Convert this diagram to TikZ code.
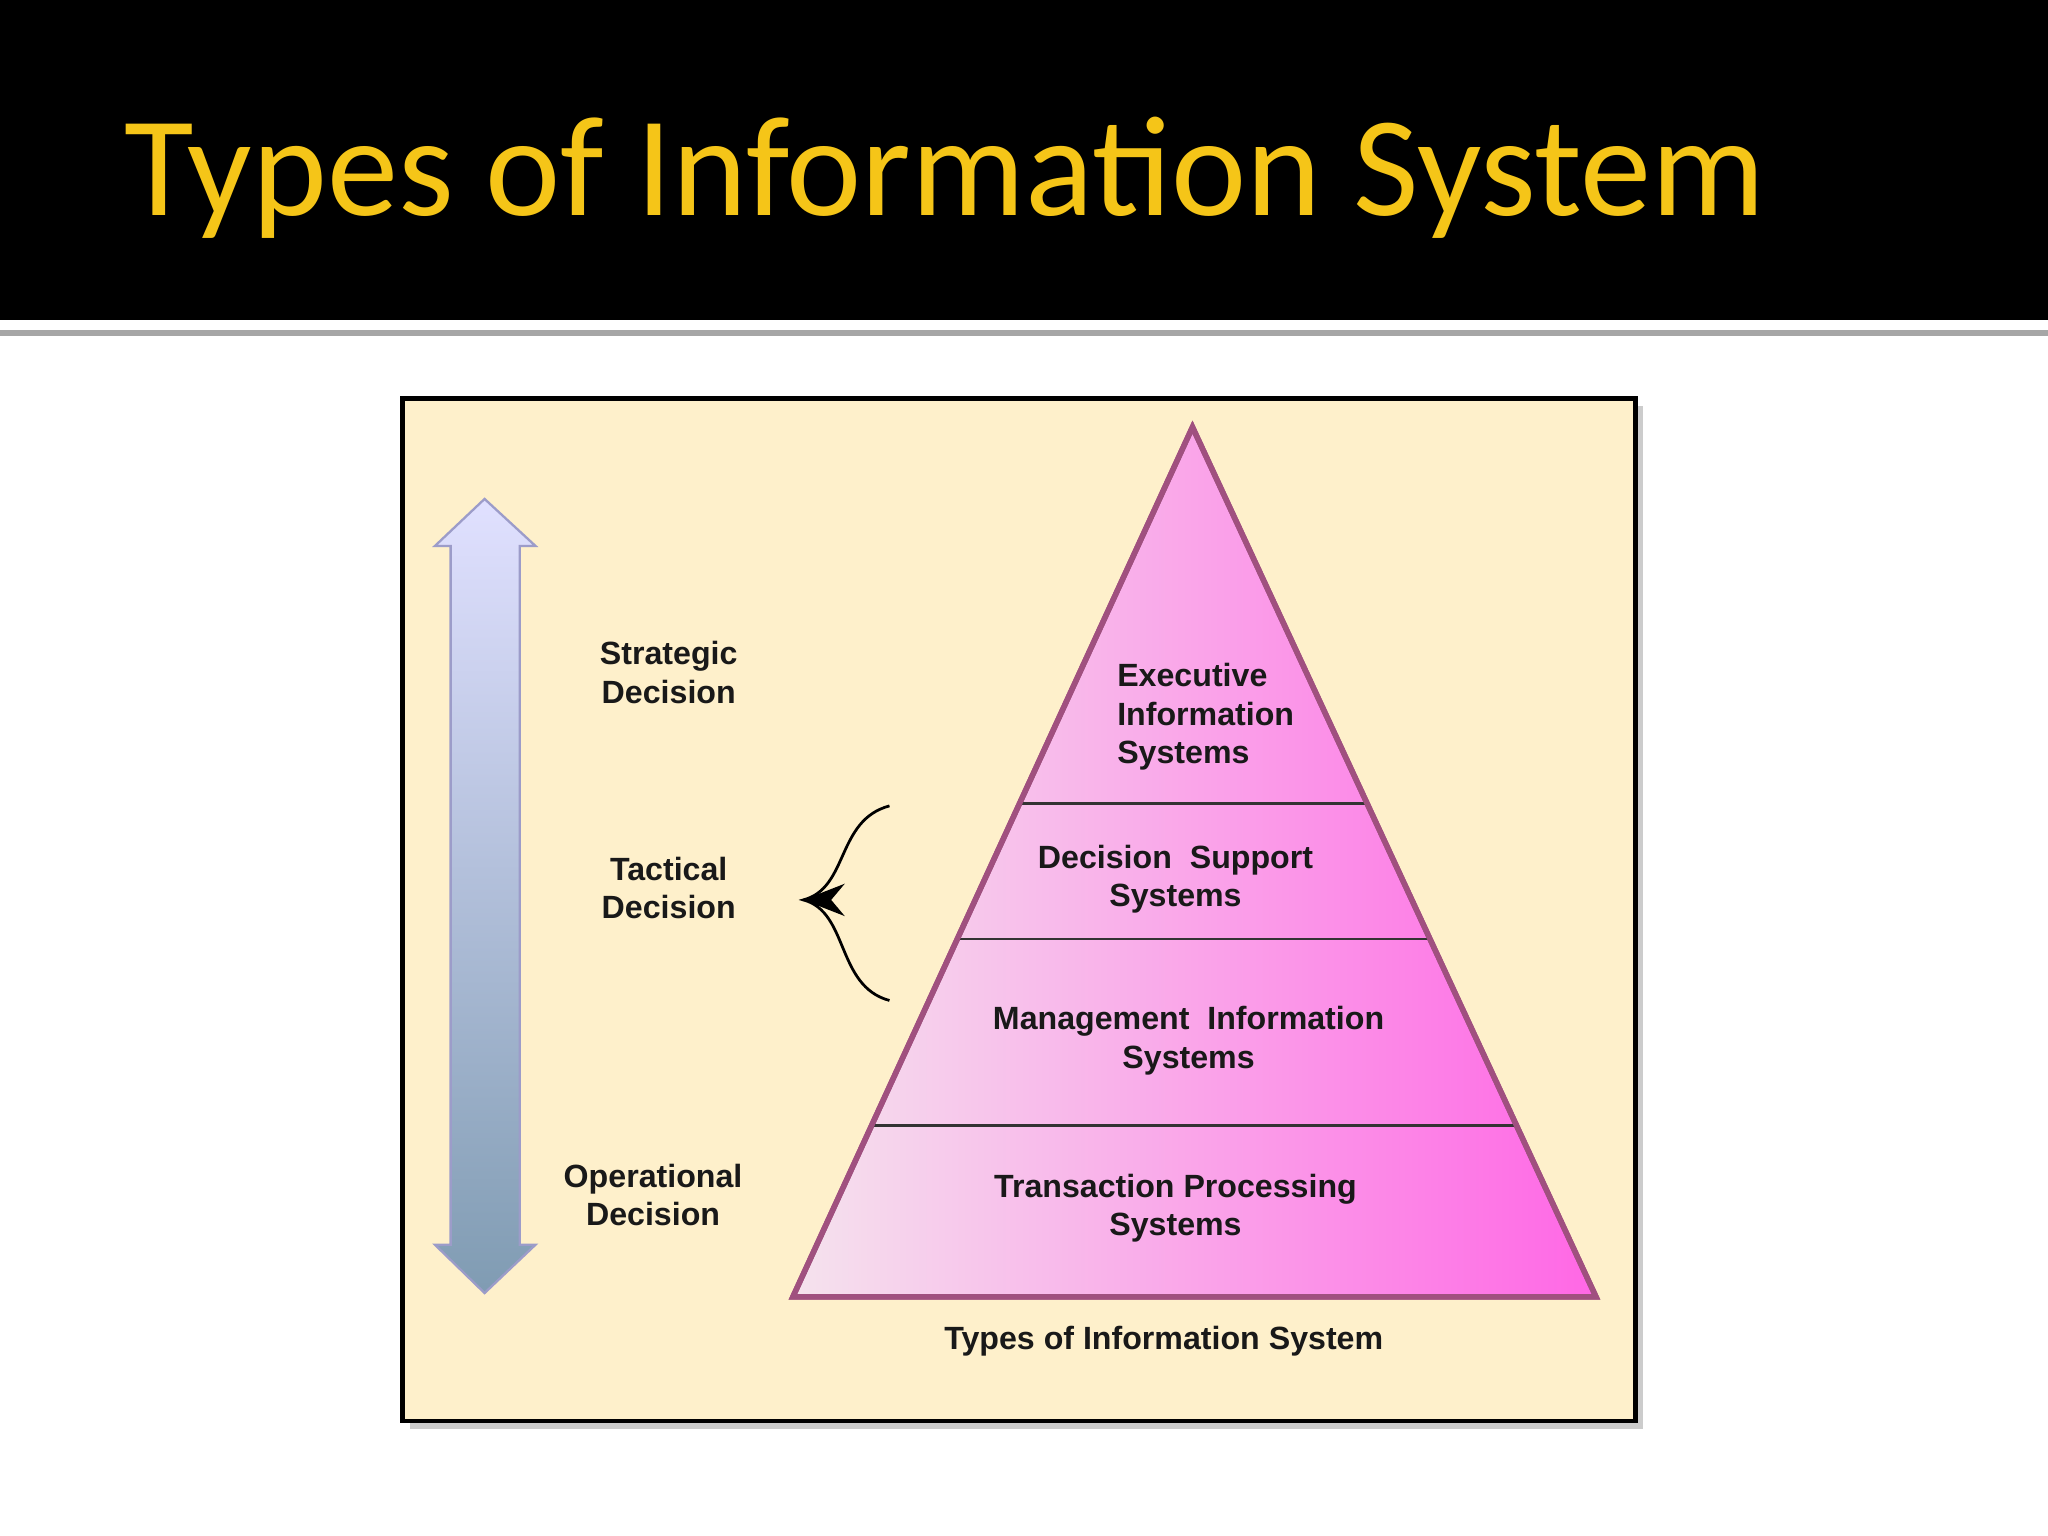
\documentclass[tikz,border=0pt]{standalone}
\usepackage{fontspec}
\setmainfont{Liberation Sans}
\newfontfamily\titlefont{Carlito}
\usetikzlibrary{calc,arrows.meta}
\definecolor{cream}{HTML}{FEF0CB}
\definecolor{gold}{HTML}{F5C518}
\definecolor{tribord}{HTML}{A0507F}
\tikzset{lbl/.style={font=\bfseries\fontsize{7pt}{8.4pt}\selectfont, align=center, text=black!90},
 lvl/.style={draw=black!80, line width=0.6pt}}
\begin{document}
\begin{tikzpicture}[x=0.01cm,y=-0.01cm]
\useasboundingbox (0,0) rectangle (1568,1176);
\fill[white] (0,0) rectangle (1568,1176);
\fill[black] (0,0) rectangle (1568,245);
\draw[gray!70, line width=1.2pt] (0,255) -- (1568,255);
\node[anchor=base west, inner sep=0, text=gold, font=\titlefont\fontsize{31pt}{36pt}\selectfont] (title) at (95,165) {Types of Information System};
% box
\fill[black!20] (314,311) rectangle (1258,1094);
\draw[fill=cream, line width=1pt] (308,305) rectangle (1252,1088);
% double arrow
\shade[top color=blue!12!white, bottom color=blue!45!cyan!25!gray!80!white, draw=blue!30!gray!60, line width=0.5pt]
 (371,382) -- (410,418) -- (398,418) -- (398,953) -- (410,953) -- (371,990) -- (333,953) -- (345,953) -- (345,418) -- (333,418) -- cycle;
% labels
\node[lbl] (strat) at (512,515) {Strategic\\Decision};
\node[lbl] (tact) at (512,680) {Tactical\\Decision};
\node[lbl] (oper) at (500,915) {Operational\\Decision};
% pyramid
\coordinate (apex) at (913,327);
\coordinate (bl) at (607,993);
\coordinate (br) at (1222,993);
\shade[left color=pink!60!violet!20!white, right color=magenta!55!pink!90!white, draw=tribord, line width=1.2pt] (apex) -- (bl) -- (br) -- cycle;
\draw[lvl] ($(apex)!0.4324!(bl)$) -- ($(apex)!0.4324!(br)$);
\draw[lvl] ($(apex)!0.5886!(bl)$) -- ($(apex)!0.5886!(br)$);
\draw[lvl] ($(apex)!0.8033!(bl)$) -- ($(apex)!0.8033!(br)$);
\draw[tribord, line width=1.2pt] (apex) -- (bl) -- (br) -- cycle;
\node[lbl, align=left, anchor=west] (eis) at (843,549) {Executive\\Information\\Systems};
\node[lbl] (dss) at (900,673) {Decision\ \ Support\\Systems};
\node[lbl] (mis) at (910,797) {Management\ \ Information\\Systems};
\node[lbl] (tps) at (900,925) {Transaction Processing\\Systems};
\node[lbl] (cap) at (891,1027) {Types of Information System};
% brace
\coordinate (btop) at (681,617);
\coordinate (bbot) at (681,766);
\coordinate (btip) at (615,689);
\coordinate (bin) at (635,689);
\draw[line width=0.6pt] (btop) .. controls (640,628) and (650,680) .. (btip) .. controls (650,698) and (640,755) .. (bbot);
\draw[-{Stealth[length=9pt,width=7pt]}, line width=0.6pt] (bin) -- (btip);
\end{tikzpicture}
\end{document}
